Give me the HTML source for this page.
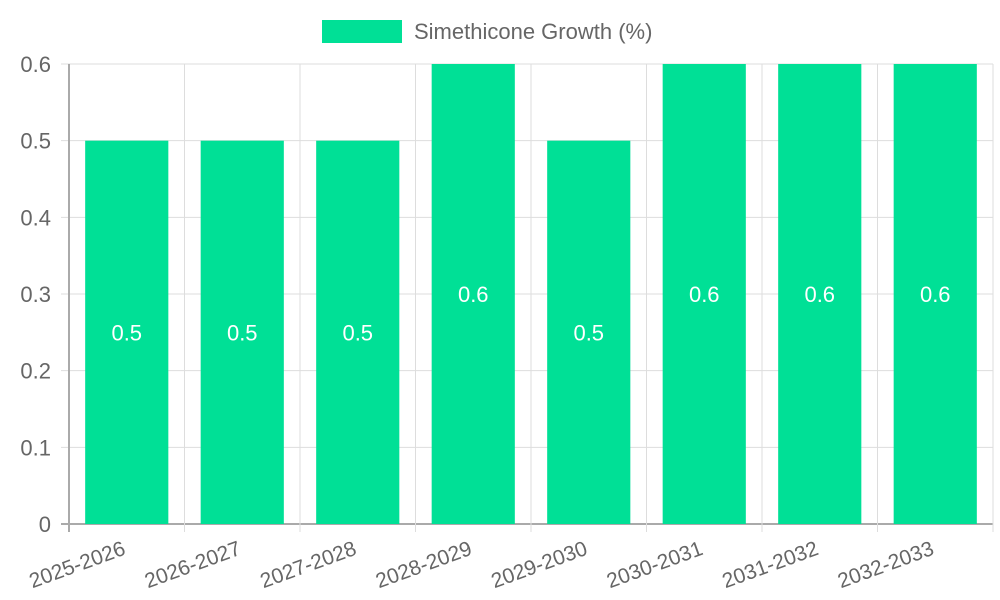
<!DOCTYPE html>
<html><head><meta charset="utf-8"><style>
body{margin:0;background:#fff;}
svg{display:block;font-family:"Liberation Sans",sans-serif;}
</style></head><body>
<svg id="chart" width="1000" height="600">
<rect x="322" y="20" width="80" height="23" fill="#00E096"/>
<text x="414" y="39" font-size="22" fill="#666">Simethicone Growth (%)</text>
<g id="grid"></g><g id="bars"></g><g id="axes"></g>
</svg>
<script>
const categories=["2025-2026","2026-2027","2027-2028","2028-2029","2029-2030","2030-2031","2031-2032","2032-2033"];
const values=[0.5,0.5,0.5,0.6,0.5,0.6,0.6,0.6];
const yTicks=[0,0.1,0.2,0.3,0.4,0.5,0.6];
const L=69,R=993,T=64,B=524,yMax=0.6;
const ns="http://www.w3.org/2000/svg";
const bw=(R-L)/categories.length;
function x(i){return L+bw*i;}
function y(v){return B-(v/yMax)*(B-T);}
function mk(tag,attrs,parent){const e=document.createElementNS(ns,tag);for(const k in attrs)e.setAttribute(k,attrs[k]);parent.appendChild(e);return e;}
const grid=document.getElementById('grid'),bars=document.getElementById('bars'),axes=document.getElementById('axes');
yTicks.forEach(t=>{
  const l=mk('line',{x1:L-8,x2:R,y1:y(t),y2:y(t),stroke:t===0?'#aaa':'#ddd','stroke-width':t===0?2:1},grid);
  
  
  const tx=mk('text',{x:L-18,y:y(t)+8,'text-anchor':'end','font-size':22,fill:'#666'},axes);
  tx.textContent=String(t);
  
  
});
for(let i=0;i<=categories.length;i++){
  const l=mk('line',{x1:x(i),x2:x(i),y1:T,y2:B+8,stroke:i===0?'#aaa':'#ddd','stroke-width':i===0?2:1},grid);
  
  
}
categories.forEach((c,i)=>{
  const cx=x(i)+bw/2,w=bw*0.72;
  const r=mk('rect',{x:cx-w/2,y:y(values[i]),width:w,height:B-y(values[i]),fill:'#00E096'},bars);
  
  
  const v=mk('text',{x:cx,y:(y(values[i])+B)/2+8,'text-anchor':'middle','font-size':22,fill:'#fff'},bars);
  v.textContent=String(values[i]);
  
  
  const t=mk('text',{x:cx,y:B+30,'text-anchor':'end','font-size':21,fill:'#666',transform:`rotate(-20 ${cx} ${B+30})`},axes);
  t.textContent=c;
  
  
});
</script>
</body></html>
